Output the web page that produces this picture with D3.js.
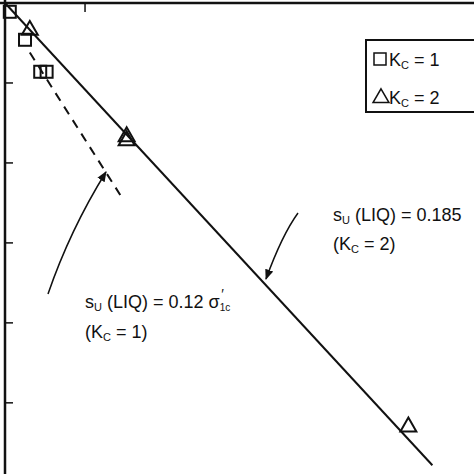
<!DOCTYPE html>
<html><head><meta charset="utf-8">
<script src="https://cdn.jsdelivr.net/npm/d3@7"></script>
<style>body{margin:0;background:#fff}text{font-family:"Liberation Sans",Arial,sans-serif;fill:#111}</style>
</head><body><svg width="474" height="474"></svg>
<script>
// data (arbitrary units, y grows downward)
const squares = [[0.06, 0.11], [0.25, 0.46], [0.44, 0.86], [0.52, 0.86]];
const triangles = [[0.31, 0.34], [1.52, 1.67], [1.52, 1.72], [5.04, 5.3]];
const solidLine = [[0, 0], [5.34, 5.78]];
const dashedLine = [[0.31, 0.62], [1.44, 2.4]];
const yTicks = [1, 2, 3, 4, 5];
const xTicks = [1];

const svg = d3.select('svg');
const x = d3.scaleLinear().domain([0, 5.86]).range([5, 474]);
const y = d3.scaleLinear().domain([0, 5.89]).range([3, 474]);

svg.append('defs').append('marker').attr('id', 'ar').attr('viewBox', '0 0 10 10')
    .attr('refX', 9).attr('refY', 5).attr('markerWidth', 7).attr('markerHeight', 7).attr('orient', 'auto')
    .append('path').attr('d', 'M0,1L10,5L0,9Z').attr('fill', '#111');

// axes frame
svg.append('line').attr('x1', 5).attr('x2', 5).attr('y1', 0).attr('y2', 474).attr('stroke', '#111').attr('stroke-width', 2.5);
svg.append('line').attr('x1', 0).attr('x2', 474).attr('y1', 3).attr('y2', 3).attr('stroke', '#111').attr('stroke-width', 2.5);
svg.selectAll('.yt').data(yTicks).join('line').attr('x1', 5).attr('x2', 13)
    .attr('y1', d => y(d)).attr('y2', d => y(d)).attr('stroke', '#111').attr('stroke-width', 1.5);
svg.selectAll('.xt').data(xTicks).join('line').attr('y1', 3).attr('y2', 12)
    .attr('x1', d => x(d)).attr('x2', d => x(d)).attr('stroke', '#111').attr('stroke-width', 1.5);

const line = d3.line().x(d => x(d[0])).y(d => y(d[1]));
svg.append('path').attr('d', line(solidLine)).attr('stroke', '#111').attr('stroke-width', 2).attr('fill', 'none');
svg.append('path').attr('d', line(dashedLine)).attr('stroke', '#111').attr('stroke-width', 2)
    .attr('stroke-dasharray', '9,7').attr('fill', 'none');

svg.selectAll('.sq').data(squares).join('rect')
    .attr('x', d => x(d[0]) - 6).attr('y', d => y(d[1]) - 6).attr('width', 12).attr('height', 12)
    .attr('fill', 'none').attr('stroke', '#111').attr('stroke-width', 2);
const tri = d3.symbol().type(d3.symbolTriangle).size(110);
svg.selectAll('.tr').data(triangles).join('path').attr('d', tri)
    .attr('transform', d => `translate(${x(d[0])},${y(d[1])})`)
    .attr('fill', 'none').attr('stroke', '#111').attr('stroke-width', 2);

// annotations
svg.append('path').attr('d', 'M298,213 Q282,235 266,279').attr('stroke', '#111').attr('stroke-width', 1.5)
    .attr('fill', 'none').attr('marker-end', 'url(#ar)');
svg.append('path').attr('d', 'M48,294 Q70,230 106,172').attr('stroke', '#111').attr('stroke-width', 1.5)
    .attr('fill', 'none').attr('marker-end', 'url(#ar)');

const lab = (tx, ty, parts) => {
    const t = svg.append('text').attr('x', tx).attr('y', ty).attr('font-size', 18);
    parts.forEach(p => t.append('tspan').text(p[0]).attr('dy', p[1] || 0).attr('dx', p[3] || 0).attr('font-size', p[2] || 18));
};
lab(333, 221, [['s'], ['U', 3, 11], [' (LIQ) = 0.185', -3]]);
lab(333, 250, [['(K'], ['C', 3, 11], [' = 2)', -3]]);
lab(85, 308, [['s'], ['U', 3, 11], [' (LIQ) = 0.12 σ', -3], ['1c', 3, 10], ['′', -12, 14, -9]]);
lab(85, 338, [['(K'], ['C', 3, 11], [' = 1)', -3]]);

// legend
svg.append('rect').attr('x', 366).attr('y', 40).attr('width', 120).attr('height', 72)
    .attr('fill', '#fff').attr('stroke', '#111').attr('stroke-width', 2);
svg.append('rect').attr('x', 374).attr('y', 53).attr('width', 12).attr('height', 12)
    .attr('fill', 'none').attr('stroke', '#111').attr('stroke-width', 1.5);
svg.append('path').attr('d', d3.symbol().type(d3.symbolTriangle).size(110)).attr('transform', 'translate(381,98)')
    .attr('fill', 'none').attr('stroke', '#111').attr('stroke-width', 1.5);
lab(389, 66, [['K'], ['C', 3, 11], [' = 1', -3]]);
lab(389, 104, [['K'], ['C', 3, 11], [' = 2', -3]]);
</script></body></html>
